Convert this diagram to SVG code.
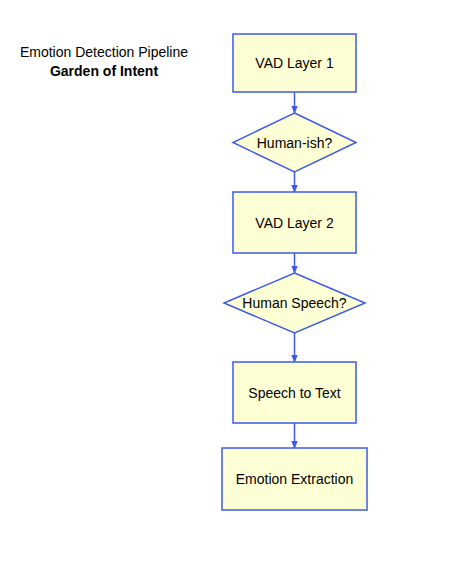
<svg xmlns="http://www.w3.org/2000/svg" width="474" height="588" viewBox="0 0 474 588">
<style>
.n{fill:#ffffd6;stroke:#3d5be8;stroke-width:1.5}
.t{font-family:"Liberation Sans",Arial,sans-serif;font-size:14px;fill:#000;text-anchor:middle}
.c{stroke:#3d5be8;stroke-width:1.5;fill:none;marker-end:url(#ah)}
</style>
<defs>
<marker id="ah" viewBox="0 0 8 8" refX="7" refY="4" markerWidth="8" markerHeight="8" markerUnits="userSpaceOnUse" orient="auto">
<path d="M0,0.8 L8,4 L0,7.2 Z" fill="#3d5be8"/>
</marker>
</defs>
<rect width="474" height="588" fill="#fff"/>
<g id="title">
<text class="t" x="104" y="57" font-size="14.5">Emotion Detection Pipeline</text>
<text class="t" x="104" y="76" font-size="14.5" font-weight="bold">Garden of Intent</text>
</g>
<g id="connectors">
<line class="c" x1="294.5" y1="92" x2="294.5" y2="113"/>
<line class="c" x1="294.5" y1="172" x2="294.5" y2="192"/>
<line class="c" x1="294.5" y1="253" x2="294.5" y2="273"/>
<line class="c" x1="294.5" y1="333" x2="294.5" y2="362"/>
<line class="c" x1="294.5" y1="423" x2="294.5" y2="448"/>
</g>
<g id="vad1">
<rect class="n" x="233" y="34" width="123" height="58"/>
<text class="t" x="294.5" y="68">VAD Layer 1</text>
</g>
<g id="humanish">
<polygon class="n" points="294.5,113 356,142.5 294.5,172 233,142.5"/>
<text class="t" x="294.5" y="147.5">Human-ish?</text>
</g>
<g id="vad2">
<rect class="n" x="233" y="192" width="123" height="61"/>
<text class="t" x="294.5" y="227.5">VAD Layer 2</text>
</g>
<g id="humanspeech">
<polygon class="n" points="294.5,273 365,303 294.5,333 224,303"/>
<text class="t" x="294.5" y="308">Human Speech?</text>
</g>
<g id="stt">
<rect class="n" x="233" y="362" width="123" height="61"/>
<text class="t" x="294.5" y="397.5">Speech to Text</text>
</g>
<g id="emotion">
<rect class="n" x="222" y="448" width="145" height="62"/>
<text class="t" x="294.5" y="484">Emotion Extraction</text>
</g>
</svg>
